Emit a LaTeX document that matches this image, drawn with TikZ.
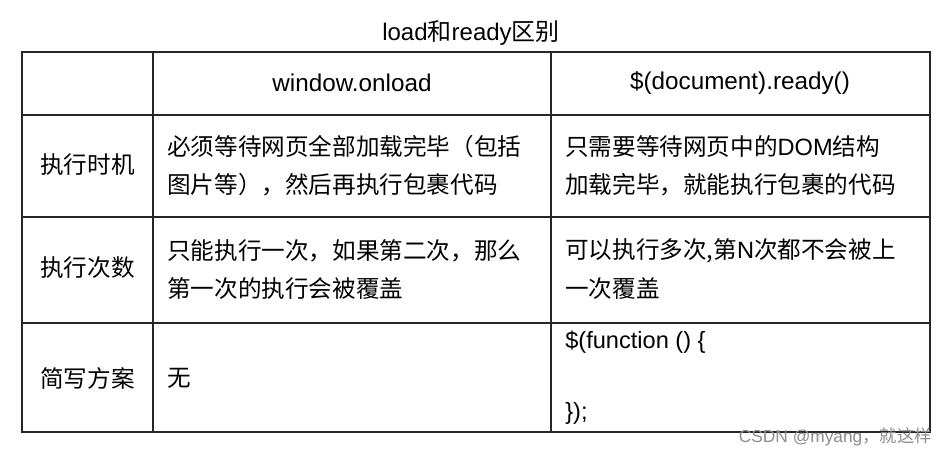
\documentclass[tikz,border=0pt]{standalone}
\usepackage{fontspec}
\setmainfont{Liberation Sans}
\newfontfamily\cjk{Noto Sans CJK SC}
\begin{document}
\begin{tikzpicture}[x=0.75pt,y=-0.75pt,
  cell/.style={anchor=west,inner sep=0pt,font=\fontsize{17.7}{20}\selectfont},
  head/.style={anchor=center,inner sep=0pt,font=\fontsize{18.2}{21}\selectfont},
  grid/.style={line width=1.1pt,draw=black!85}]
\useasboundingbox (0,0) rectangle (946,453);
\node[head,font=\fontsize{18}{21}\selectfont] (title) at (471,33) {load{\cjk 和}ready{\cjk 区别}};
\draw[grid] (22,52) rectangle (930,432);
\foreach \yy in {115,217,323} \draw[grid] (22,\yy) -- (930,\yy);
\foreach \xx in {153,551} \draw[grid] (\xx,52) -- (\xx,432);
\node[head] (h1) at (352,83) {window.onload};
\node[head] (h2) at (740,83) {\$(document).ready()};
\node[cell] (r1) at (40,165) {\cjk 执行时机};
\node[cell] (a1) at (167,147) {\cjk 必须等待网页全部加载完毕（包括};
\node[cell] (a1b) at (167,185) {\cjk 图片等），然后再执行包裹代码};
\node[cell] (b1) at (565,147) {{\cjk 只需要等待网页中的}DOM{\cjk 结构}};
\node[cell] (b1b) at (565,185) {\cjk 加载完毕，就能执行包裹的代码};
\node[cell] (r2) at (40,268) {\cjk 执行次数};
\node[cell] (a2) at (167,251) {\cjk 只能执行一次，如果第二次，那么};
\node[cell] (a2b) at (167,289) {\cjk 第一次的执行会被覆盖};
\node[cell] (b2) at (565,251) {{\cjk 可以执行多次,第}N{\cjk 次都不会被上}};
\node[cell] (b2b) at (565,289) {\cjk 一次覆盖};
\node[cell] (r3) at (40,378) {\cjk 简写方案};
\node[cell] (a3) at (167,378) {\cjk 无};
\node[cell] (b3) at (565,342) {\$(function () \{};
\node[cell] (b3b) at (565,413) {\});};
\node[anchor=east,inner sep=0pt,text=black!45,font=\fontsize{13}{15}\selectfont] (wm) at (932,437) {CSDN @myang{\cjk ，就这样}};
\end{tikzpicture}
\end{document}
